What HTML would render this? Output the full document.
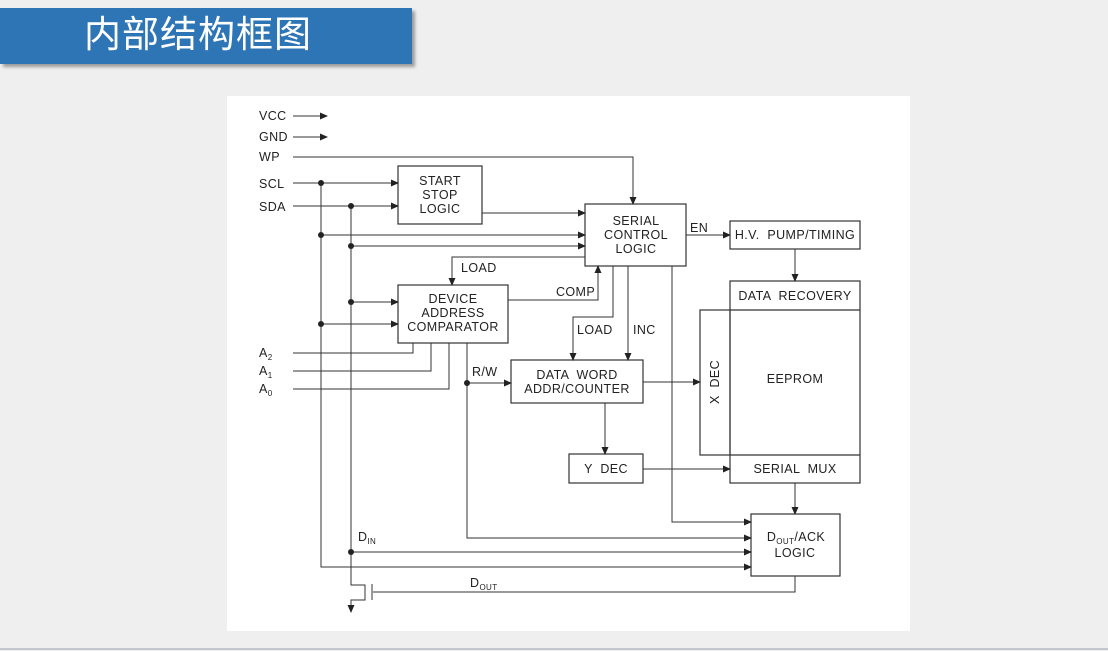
<!DOCTYPE html>
<html><head><meta charset="utf-8"><style>
html,body{margin:0;padding:0;background:#efefef;width:1108px;height:651px;overflow:hidden;position:relative}
.bar{position:absolute;left:0;top:8px;width:412px;height:56px;background:#2e75b6;box-shadow:3px 3px 3px rgba(0,0,0,0.35);color:#fff;font-family:"Liberation Sans","Noto Sans CJK SC",sans-serif;font-size:37px;line-height:56px}
.bar span{position:absolute;left:84px;top:-1px;letter-spacing:1px}
.bl{position:absolute;left:0;top:648px;width:1108px;height:2px;background:#c3c6cc}
svg{position:absolute;left:0;top:0}
text{font-family:"Liberation Sans",sans-serif;font-size:12.5px;fill:#222;letter-spacing:0.4px;white-space:pre}
</style></head><body>
<div class="bar"><span>内部结构框图</span></div>
<div class="bl"></div>
<svg width="1108" height="651" viewBox="0 0 1108 651">
<defs><marker id="a" markerWidth="8" markerHeight="8" refX="7" refY="4" orient="auto" markerUnits="userSpaceOnUse"><path d="M0,0.5 L8,4 L0,7.5z" fill="#222"/></marker></defs>
<rect x="227" y="96" width="683" height="535" fill="#fff"/>
<g stroke="#333" stroke-width="1.2" fill="none">
<rect x="398" y="166" width="84" height="58"/>
<rect x="585" y="204" width="101" height="62"/>
<rect x="398" y="285" width="110" height="58"/>
<rect x="511" y="360" width="132" height="43"/>
<rect x="730" y="221" width="130" height="28"/>
<rect x="730" y="281" width="130" height="202"/>
<line x1="730" y1="310" x2="860" y2="310"/>
<line x1="730" y1="455" x2="860" y2="455"/>
<rect x="700" y="310" width="30" height="145"/>
<rect x="569" y="454" width="74" height="29"/>
<rect x="751" y="514" width="89" height="62"/>
</g>
<g stroke="#333" stroke-width="1" fill="none">
<path d="M293 116H327" marker-end="url(#a)"/>
<path d="M293 137H327" marker-end="url(#a)"/>
<path d="M293 157H633V204" marker-end="url(#a)"/>
<path d="M293 183H398" marker-end="url(#a)"/>
<path d="M293 206H398" marker-end="url(#a)"/>
<path d="M482 213H585" marker-end="url(#a)"/>
<path d="M321 235H585" marker-end="url(#a)"/>
<path d="M351 246H585" marker-end="url(#a)"/>
<path d="M585 257H452V285" marker-end="url(#a)"/>
<path d="M351 302H398" marker-end="url(#a)"/>
<path d="M321 324H398" marker-end="url(#a)"/>
<path d="M508 300H598V266" marker-end="url(#a)"/>
<path d="M293 353H413V343"/>
<path d="M293 371H431V343"/>
<path d="M293 389H449V343"/>
<path d="M467 343V538H751" marker-end="url(#a)"/>
<path d="M467 383H511" marker-end="url(#a)"/>
<path d="M613 266V317H573V360" marker-end="url(#a)"/>
<path d="M628 266V360" marker-end="url(#a)"/>
<path d="M672 266V522H751" marker-end="url(#a)"/>
<path d="M686 235H730" marker-end="url(#a)"/>
<path d="M795 249V281" marker-end="url(#a)"/>
<path d="M643 382H700" marker-end="url(#a)"/>
<path d="M605 403V454" marker-end="url(#a)"/>
<path d="M643 469H730" marker-end="url(#a)"/>
<path d="M795 483V514" marker-end="url(#a)"/>
<path d="M321 183V567H751" marker-end="url(#a)"/>
<path d="M351 206V585H365V600H351V612" marker-end="url(#a)"/>
<path d="M351 552H751" marker-end="url(#a)"/>
<path d="M372 584V600"/>
<path d="M373 592H795V576"/>
</g>
<g fill="#222">
<circle cx="321" cy="183" r="3"/><circle cx="351" cy="206" r="3"/>
<circle cx="321" cy="235" r="3"/><circle cx="351" cy="246" r="3"/>
<circle cx="351" cy="302" r="3"/><circle cx="321" cy="324" r="3"/>
<circle cx="467" cy="383" r="3"/><circle cx="351" cy="552" r="3"/>
</g>
<text x="259" y="120">VCC</text>
<text x="259" y="141">GND</text>
<text x="259" y="161">WP</text>
<text x="259" y="188">SCL</text>
<text x="259" y="211">SDA</text>
<text x="259" y="357">A<tspan font-size="8" dy="3">2</tspan></text>
<text x="259" y="375">A<tspan font-size="8" dy="3">1</tspan></text>
<text x="259" y="393">A<tspan font-size="8" dy="3">0</tspan></text>
<g text-anchor="middle">
<text x="440" y="185">START</text><text x="440" y="199">STOP</text><text x="440" y="213">LOGIC</text>
<text x="636" y="225">SERIAL</text><text x="636" y="239">CONTROL</text><text x="636" y="253">LOGIC</text>
<text x="453" y="303">DEVICE</text><text x="453" y="317">ADDRESS</text><text x="453" y="331">COMPARATOR</text>
<text x="577" y="379">DATA  WORD</text><text x="577" y="393">ADDR/COUNTER</text>
<text x="795" y="239">H.V.  PUMP/TIMING</text>
<text x="795" y="300">DATA  RECOVERY</text>
<text x="795" y="383">EEPROM</text>
<text x="795" y="473">SERIAL  MUX</text>
<text x="606" y="473">Y  DEC</text>
<text x="796" y="541">D<tspan font-size="8" dy="3">OUT</tspan><tspan dy="-3">/ACK</tspan></text>
<text x="795" y="557">LOGIC</text>
</g>
<text transform="translate(719,382) rotate(-90)" text-anchor="middle">X  DEC</text>
<text x="461" y="272">LOAD</text>
<text x="556" y="296">COMP</text>
<text x="577" y="334">LOAD</text>
<text x="633" y="334">INC</text>
<text x="472" y="376">R/W</text>
<text x="690" y="232">EN</text>
<text x="358" y="541">D<tspan font-size="8" dy="3">IN</tspan></text>
<text x="470" y="587">D<tspan font-size="8" dy="3">OUT</tspan></text>
</svg>
</body></html>
